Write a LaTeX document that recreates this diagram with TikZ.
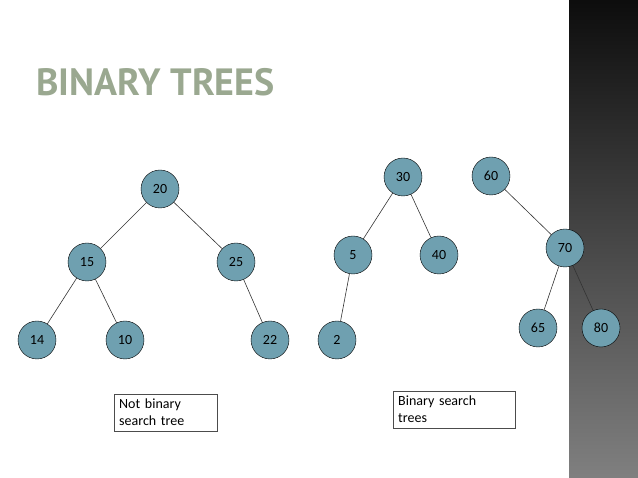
\documentclass[tikz,border=0pt]{standalone}
\usepackage{fontspec}
\setmainfont{Carlito}
\newfontfamily\titlefont{PT Sans}
\definecolor{nodefill}{HTML}{6FA0B0}
\definecolor{titlecol}{HTML}{9AA890}
\begin{document}
\begin{tikzpicture}[x=1pt,y=-1pt,
  tn/.style={circle,draw=black,fill=nodefill,minimum size=38pt,inner sep=0pt,font=\fontsize{14}{16}\selectfont},
  edge/.style={draw=black!80,line width=0.6pt},
  lbox/.style={draw=black!70,align=left,anchor=north west,font=\fontsize{14}{17}\selectfont,inner sep=5pt}]
\useasboundingbox (0,0) rectangle (638,478);
\shade[top color=black!95,bottom color=black!50] (569,0) rectangle (638,478);
\node[anchor=west,text=titlecol,font=\titlefont\bfseries\fontsize{38}{40}\selectfont] (title) at (33,82) {BINARY TREES};
\node[tn] (n20) at (160,189) {20};
\node[tn] (n15) at (87,262) {15};
\node[tn] (n25) at (236,262) {25};
\node[tn] (n14) at (37,340) {14};
\node[tn] (n10) at (125,340) {10};
\node[tn] (n22) at (270,340) {22};
\node[tn] (n30) at (403,177) {30};
\node[tn] (n5) at (353,255) {5};
\node[tn] (n40) at (439,255) {40};
\node[tn] (n2) at (337,340) {2};
\node[tn] (n60) at (491,176) {60};
\node[tn] (n70) at (565,248) {70};
\node[tn] (n65) at (538,328) {65};
\node[tn] (n80) at (601,328) {80};
\foreach \a/\b in {n20/n15,n20/n25,n15/n14,n15/n10,n25/n22,n30/n5,n30/n40,n5/n2,n60/n70,n70/n65,n70/n80}
  \draw[edge] (\a) -- (\b);
\node[lbox,text width=93pt] (b1) at (114,394) {Not binary\\search tree};
\node[lbox,text width=112pt] (b2) at (393,391) {Binary search\\trees};
\end{tikzpicture}
\end{document}
